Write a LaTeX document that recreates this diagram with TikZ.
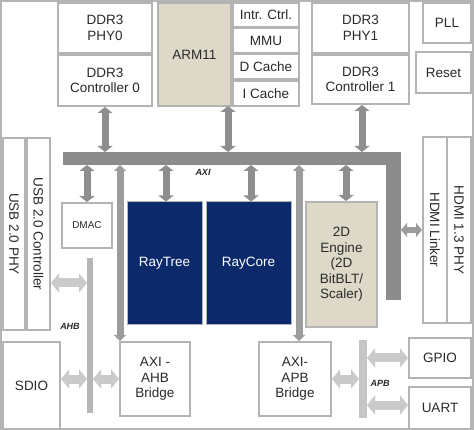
\documentclass[tikz,border=0pt]{standalone}
\usepackage{fontspec}
\setmainfont{Liberation Sans}
\usetikzlibrary{arrows.meta,calc}
\definecolor{bordc}{HTML}{B4B4B4}
\definecolor{txtc}{HTML}{2A2A2A}
\definecolor{navyc}{HTML}{0C2A6B}
\definecolor{beigec}{HTML}{DDD8C7}
\definecolor{busc}{HTML}{8C8C8C}
\definecolor{arrc}{HTML}{8E8E8E}
\definecolor{varrc}{HTML}{9C9C9C}
\definecolor{lbarc}{HTML}{B6B6B6}
\definecolor{larrc}{HTML}{CACACA}
\newcommand\bx[7]{\node[box,#6,minimum width={#4-#2},minimum height={#5-#3}] (#1) at ({(#2+#4)/2},{(#3+#5)/2}) {#7};}
\begin{document}
\begin{tikzpicture}[x=1pt,y=-1pt,
  box/.style={draw=bordc,line width=2pt,fill=white,inner sep=1pt,align=center,
    font=\fontsize{13.5}{15.5}\selectfont,text=txtc},
  beige/.style={fill=beigec},
  navy/.style={fill=navyc,draw=bordc,line width=1pt,text=white},
  small/.style={font=\fontsize{10}{11}\selectfont},
  vert/.style={rotate=-90},
  buslbl/.style={font=\fontsize{9}{9}\selectfont\bfseries\itshape,text=txtc,inner sep=0pt},
  darr/.style={draw=arrc,line width=7pt,{Triangle[width=15pt,length=6pt]}-{Triangle[width=15pt,length=6pt]}},
  varr/.style={draw=varrc,line width=7pt,{Triangle[width=12pt,length=6pt]}-{Triangle[width=12pt,length=6pt]}},
  harr/.style={draw=varrc,line width=6pt,{Triangle[width=14pt,length=6pt]}-{Triangle[width=14pt,length=6pt]}},
  larr/.style={draw=larrc,line width=9pt,{Triangle[width=19pt,length=8pt]}-{Triangle[width=19pt,length=8pt]}},
  bar/.style={inner sep=0pt,outer sep=0pt}
]
\useasboundingbox (0,0) rectangle (474,430);
\draw[bordc,line width=1.5pt] (1,1) rectangle (473,429);
% top row
\bx{phy0}{58}{3}{152}{53}{}{DDR3\\PHY0}
\bx{ctl0}{58}{55}{152}{106}{}{DDR3\\Controller 0}
\bx{arm}{158}{3}{231}{106}{beige}{ARM11}
\bx{intr}{233}{3}{299}{27}{}{Intr. Ctrl.}
\bx{mmu}{233}{28}{299}{53}{}{MMU}
\bx{dcache}{233}{54}{299}{79}{}{D Cache}
\bx{icache}{233}{81}{299}{106}{}{I Cache}
\bx{phy1}{312}{3}{409}{53}{}{DDR3\\PHY1}
\bx{ctl1}{312}{55}{409}{104}{}{DDR3\\Controller 1}
\bx{pll}{423}{3}{471}{43}{}{PLL}
\bx{reset}{416}{52}{471}{93}{}{Reset}
% AXI bus
\node[bar,fill=busc,minimum width=338,minimum height=13] (axibus) at (232,158.5) {};
\node[bar,fill=busc,minimum width=15,minimum height=135] (busv) at (393.5,232.5) {};
\node[buslbl] (axilbl) at (203,172) {AXI};
% middle
\bx{dmac}{62}{203}{112}{248}{small}{DMAC}
\bx{raytree}{127}{202}{202}{325}{navy}{RayTree}
\bx{raycore}{206}{202}{291}{325}{navy}{RayCore}
\bx{eng}{306}{202}{377}{327}{beige}{2D\\Engine\\(2D\\BitBLT/\\Scaler)}
% side columns (rotated)
\node[box,vert,minimum width=192,minimum height=22] (usbphy) at (14,234) {USB 2.0 PHY};
\node[box,vert,minimum width=192,minimum height=23] (usbctl) at (38.5,234) {USB 2.0 Controller};
\node[box,vert,minimum width=186,minimum height=24] (hdmilink) at (435,230) {HDMI Linker};
\node[box,vert,minimum width=186,minimum height=24] (hdmiphy) at (459,230) {HDMI 1.3 PHY};
% bottom
\node[bar,fill=lbarc,minimum width=6,minimum height=155] (ahb) at (90,335.5) {};
\node[buslbl] (ahblbl) at (70,326) {AHB};
\bx{sdio}{3}{342}{60}{429}{}{SDIO}
\bx{axiahb}{120}{342}{190}{416}{}{AXI -\\AHB\\Bridge}
\bx{axiapb}{259}{342}{331}{416}{}{AXI-\\APB\\Bridge}
\node[bar,fill=lbarc!80,minimum width=8,minimum height=78] (apb) at (363,379) {};
\node[buslbl] (apblbl) at (380,383) {APB};
\bx{gpio}{409}{338}{471}{378}{}{GPIO}
\bx{uart}{409}{387}{471}{429}{}{UART}
% anchor points
\coordinate (armout) at (228,106);
\coordinate (ctl1out) at ([xshift=1.5pt]ctl1.south);
\coordinate (rtin) at ([xshift=1.5pt]raytree.north);
\coordinate (rcin) at ([xshift=2.5pt]raycore.north);
\coordinate (engin) at ([xshift=4.5pt]eng.north);
\coordinate (ahbin) at ([xshift=1pt]axiahb.north west);
\coordinate (apbin) at ([xshift=4pt]axiapb.north);
\coordinate (usbout) at ($(usbctl.north)+(0,49)$);
\coordinate (uartin) at ($(uart.west)+(0,-3)$);
% connectors above bus
\draw[darr] (ctl0.south) -- (ctl0.south |- axibus.north);
\draw[darr] (armout) -- (armout |- axibus.north);
\draw[darr] (ctl1out) -- (ctl1out |- axibus.north);
% connectors below bus
\draw[darr] (axibus.south -| dmac.north) -- (dmac.north);
\draw[darr] (axibus.south -| rtin) -- (rtin);
\draw[darr] (axibus.south -| rcin) -- (rcin);
\draw[darr] (axibus.south -| engin) -- (engin);
\draw[varr] (axibus.south -| ahbin) -- (ahbin);
\draw[varr] (axibus.south -| apbin) -- (apbin);
\draw[harr] (busv.east |- hdmilink.south) -- (hdmilink.south);
% AHB / APB connectors
\draw[larr] (usbout) -- (usbout -| ahb.west);
\draw[larr] (sdio.east |- axiahb.west) -- (ahb.west |- axiahb.west);
\draw[larr] (ahb.east |- axiahb.west) -- (axiahb.west);
\draw[larr] (axiapb.east) -- (apb.west |- axiapb.east);
\draw[larr] (apb.east |- gpio.west) -- (gpio.west);
\draw[larr] (apb.east |- uartin) -- (uartin);
\end{tikzpicture}
\end{document}
